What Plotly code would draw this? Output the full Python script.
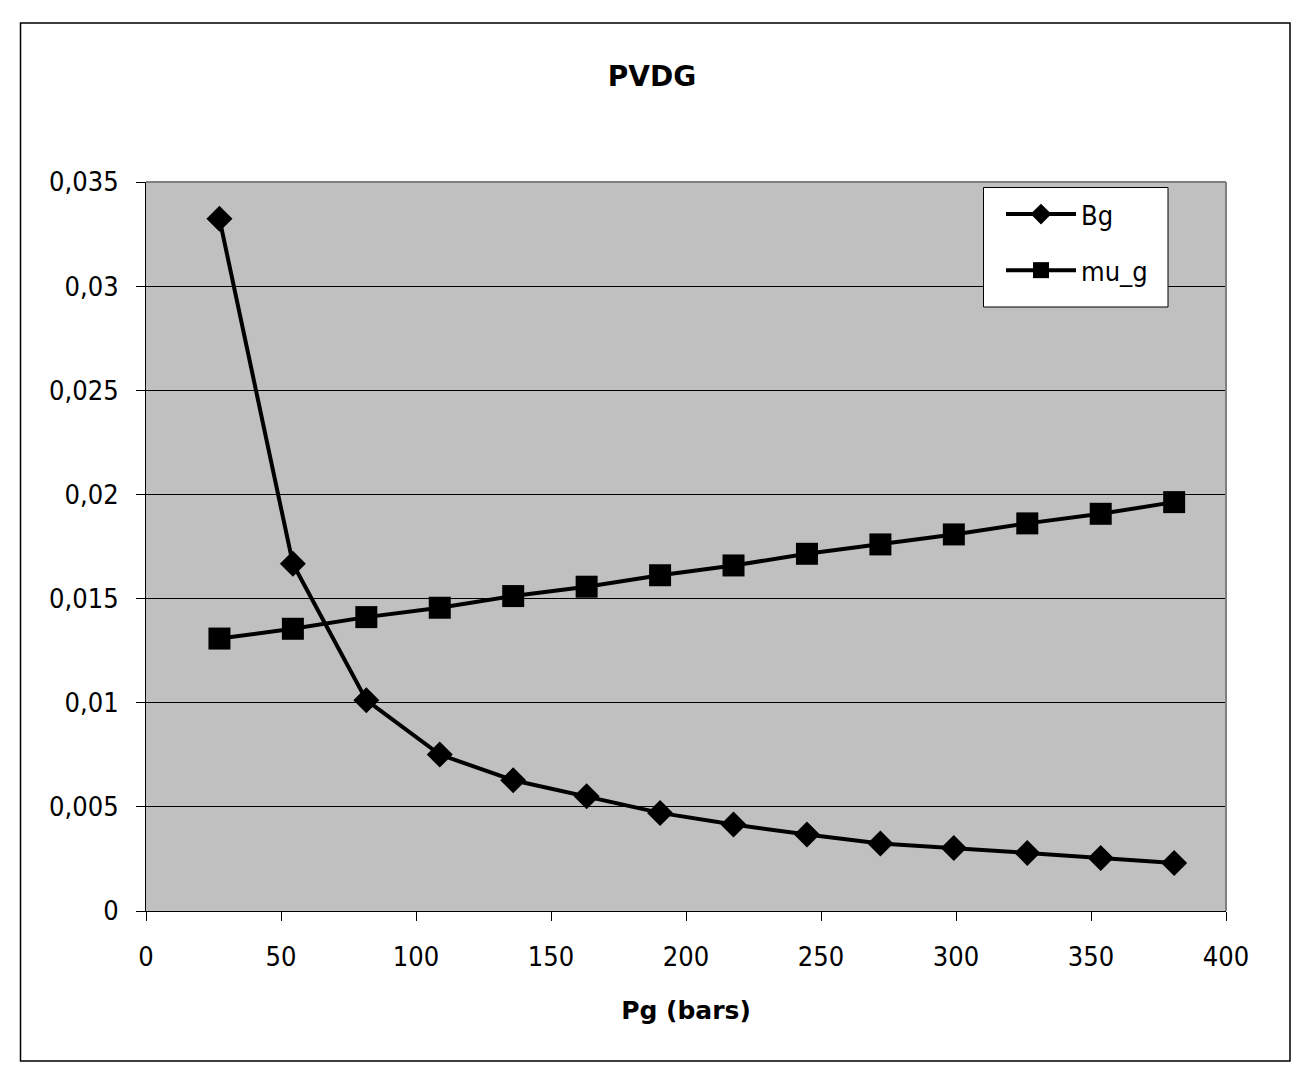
import plotly.graph_objects as go

# ---- data ----
pressure_bar = [27.2, 54.4, 81.6, 108.8, 136.0, 163.2, 190.4, 217.6, 244.8, 272.0, 299.2, 326.4, 353.6, 380.8]
bg = [0.03324, 0.01667, 0.01012, 0.00751, 0.00628, 0.00551, 0.00471, 0.00415,
      0.00367, 0.00324, 0.00303, 0.00279, 0.00255, 0.00231]
mu_g = [0.01308, 0.01355, 0.01411, 0.01456, 0.01512, 0.01557, 0.01612, 0.01659,
        0.01715, 0.01760, 0.01808, 0.01861, 0.01907, 0.01963]
series_names = ["Bg", "mu_g"]
title_text = "PVDG"
x_title = "Pg (bars)"
x_ticks = [0, 50, 100, 150, 200, 250, 300, 350, 400]
y_ticks = [0, 0.005, 0.01, 0.015, 0.02, 0.025, 0.03, 0.035]

# ---- layout geometry (pixels) ----
W, H = 1304, 1073
L, R, T, B = 146, 1226, 182, 911
FONT = "DejaVu Sans"
FONT_C = "DejaVu Sans Condensed"

fig = go.Figure()
fig.add_trace(go.Scatter(
    x=pressure_bar, y=bg, name=series_names[0], mode="lines+markers",
    line=dict(color="black", width=4),
    marker=dict(symbol="diamond", size=20, color="black"),
    legendgroup="a",
))
fig.add_trace(go.Scatter(
    x=pressure_bar, y=mu_g, name=series_names[1], mode="lines+markers",
    line=dict(color="black", width=4),
    marker=dict(symbol="square", size=22, color="black"),
    legendgroup="b",
))

def px_x(p):
    return (p - L) / (R - L)

def px_y(p):
    return (B - p) / (B - T)

fig.update_layout(
    width=W, height=H,
    margin=dict(l=L, r=W - R, t=T, b=H - B, pad=0),
    paper_bgcolor="white",
    plot_bgcolor="#C0C0C0",
    separators=",.",
    font=dict(family=FONT_C, size=27, color="black"),
    title=dict(text="<b>" + title_text + "</b>", x=0.5, xref="container", xanchor="center",
               y=1 - 76 / H, yref="container", yanchor="middle",
               font=dict(family=FONT, size=28, color="black")),
    showlegend=True,
    legend=dict(
        x=px_x(1001), y=px_y(190), xanchor="left", yanchor="top",
        bgcolor="rgba(0,0,0,0)", borderwidth=0,
        font=dict(family=FONT_C, size=27, color="black"),
        itemwidth=70, tracegroupgap=18,
    ),
    xaxis=dict(
        range=[0, 400], tickvals=x_ticks, showgrid=False, zeroline=False,
        showline=True, linecolor="black", linewidth=1,
        ticks="outside", ticklen=9, tickcolor="black", tickwidth=1,
        ticklabelstandoff=13,
        title=dict(text="<b>" + x_title + "</b>", standoff=30,
                   font=dict(family=FONT, size=25, color="black")),
    ),
    yaxis=dict(
        range=[0, 0.035], tickvals=y_ticks, showgrid=True, gridcolor="black", gridwidth=1,
        zeroline=False, showline=True, linecolor="black", linewidth=1,
        ticks="outside", ticklen=9, tickcolor="black", tickwidth=1,
        ticklabelstandoff=12,
    ),
    shapes=[
        dict(type="line", xref="paper", yref="paper", x0=0, x1=1, y0=1, y1=1,
             line=dict(color="#808080", width=2)),
        dict(type="line", xref="paper", yref="paper", x0=1, x1=1, y0=0, y1=1,
             line=dict(color="#808080", width=2)),
        dict(type="rect", xref="paper", yref="paper",
             x0=px_x(20.5), x1=px_x(1290), y0=px_y(1061), y1=px_y(23),
             line=dict(color="black", width=1.5), fillcolor="rgba(0,0,0,0)", layer="below"),
        # legend box
        dict(type="rect", xref="paper", yref="paper",
             x0=px_x(983.5), x1=px_x(1168), y0=px_y(307), y1=px_y(187.5),
             line=dict(color="black", width=1), fillcolor="white", layer="above"),
    ],
)

fig.write_html("out.html", config={"displayModeBar": False},
               post_script="document.body.style.margin='0';")
